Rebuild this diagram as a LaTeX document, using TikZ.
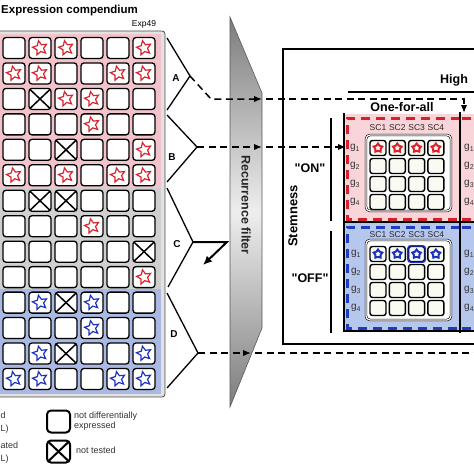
\documentclass[tikz,border=0pt]{standalone}
\usepackage{fontspec}
\setmainfont{Liberation Sans}
\newfontfamily\qfont{Liberation Sans}
\usetikzlibrary{arrows.meta,shapes.geometric,calc}
\definecolor{pinkbg}{HTML}{F2C3CA}
\definecolor{graybg}{HTML}{CFCFCF}
\definecolor{bluebg}{HTML}{A9B9E2}
\definecolor{framegray}{HTML}{E2E2E2}
\definecolor{starred}{HTML}{D9232E}
\definecolor{starblue}{HTML}{1C33BF}
\definecolor{pinkR}{HTML}{F9D4D9}
\definecolor{blueR}{HTML}{B6C7EE}
\definecolor{dashred}{HTML}{D6202E}
\definecolor{dashblue}{HTML}{1D3DBE}
\definecolor{fdark}{HTML}{7C7C7C}
\definecolor{flight}{HTML}{EEEEEE}
\definecolor{cellfill}{HTML}{FAFAF3}
\begin{document}
\begin{tikzpicture}[x=1pt,y=-1pt,
  every node/.style={inner sep=0pt},
  bigbold/.style={font=\fontsize{12.5}{14}\selectfont\bfseries},
  lbl/.style={font=\fontsize{10}{11}\selectfont\bfseries},
  cell/.style={draw=black,line width=1.3pt,fill=white,rounded corners=3pt,minimum width=22pt,minimum height=21pt},
  rstar/.style={star,star points=5,star point ratio=2.1,draw=starred,line width=1.2pt,minimum size=15pt,shape border rotate=12},
  bstar/.style={rstar,draw=starblue},
  xmark/.style={line width=1.5pt},
  bracket/.style={line width=1.3pt},
  dashline/.style={line width=1.5pt,dash pattern=on 7pt off 4.5pt},
  dashconn/.style={dashline,-{Latex[length=8pt,width=6.5pt]}},
  scell/.style={draw=black,line width=1.4pt,fill=cellfill,rounded corners=2.5pt,minimum width=16pt,minimum height=15pt},
  gicon/.style={star,star points=5,star point ratio=1.6,draw=starred,line width=2pt,minimum size=9pt},
  sclbl/.style={font=\fontsize{8.5}{9}\selectfont,text=black!85},
  glbl/.style={font=\fontsize{10}{11}\selectfont,text=black!80},
  reddash/.style={draw=dashred,line width=3pt,dash pattern=on 9pt off 6pt},
  bluedash/.style={draw=dashblue,line width=3pt,dash pattern=on 9pt off 6pt},
  legtxt/.style={font=\fontsize{9}{10.5}\selectfont,text=black!80,align=left},
  lcell/.style={draw=black,line width=2pt,fill=white,rounded corners=4pt,minimum width=23pt,minimum height=22pt}
]
\useasboundingbox (0,0) rectangle (474,474);

% ---------- title ----------
\node[font=\fontsize{11.5}{13}\selectfont\bfseries,anchor=base west] (title) at (1,13) {Expression compendium};
\node[font=\fontsize{8.5}{9}\selectfont] (exp) at (144,24) {Exp49};

% ---------- plate ----------
\draw[fill=framegray,draw=black!70,line width=0.8pt,rounded corners=3pt] (-8,31) rectangle (165,397);
\fill[pinkbg] (-8,34) rectangle (161,188);
\fill[graybg] (-8,188) rectangle (161,289);
\fill[bluebg] (-8,289) rectangle (161,394);

\foreach \j in {1,...,14}{
  \foreach \i in {1,...,6}{
    \node[cell] (c-\i-\j) at ({14+26*(\i-1)},{48+25.46*(\j-1)}) {};
  }
}
\foreach \i/\j in {2/1,3/1,6/1,1/2,2/2,5/2,6/2,3/3,4/3,4/4,6/5,1/6,3/6,5/6,6/6,4/8,6/10}
  \node[rstar] (rs-\i-\j) at (c-\i-\j) {};
\foreach \i/\j in {2/11,4/11,4/12,2/13,6/13,1/14,2/14,5/14,6/14}
  \node[bstar] (bs-\i-\j) at (c-\i-\j) {};
\foreach \i/\j in {2/3,3/5,2/7,3/7,6/9,3/11,3/13}{
  \draw[xmark] ($(c-\i-\j.north west)+(1.5,1.5)$) -- ($(c-\i-\j.south east)+(-1.5,-1.5)$);
  \draw[xmark] ($(c-\i-\j.north east)+(-1.5,1.5)$) -- ($(c-\i-\j.south west)+(1.5,-1.5)$);
}

% ---------- brackets ----------
\coordinate (aA) at (190,76);
\coordinate (aB) at (197,147);
\coordinate (aC) at (193,242);
\coordinate (aD) at (198,353);
\draw[bracket] (167,38) -- (aA) -- (167,110);
\draw[bracket] (167,115) -- (aB) -- (167,182);
\draw[bracket] (167,188) -- (aC) -- (168,287);
\draw[bracket] (167,293) -- (aD) -- (167,388);
\node[lbl] (lA) at (176,78) {A};
\node[lbl] (lB) at (172,157) {B};
\node[lbl] (lC) at (177,244) {C};
\node[lbl] (lD) at (174,334) {D};

% ---------- filter ----------
\coordinate (f1) at (230,17);
\coordinate (f2) at (262,93);
\coordinate (f3) at (262,328);
\coordinate (f4) at (230,407);
\path[draw=black!65,line width=0.6pt,top color=fdark,bottom color=fdark,middle color=flight]
  (f1) -- (f2) -- (f3) -- (f4) -- cycle;
\node[rotate=-90,font=\fontsize{12.5}{13}\selectfont\bfseries,text=black!85] (rf) at (246,205) {Recurrence filter};
\coordinate (fa) at (262,99);
\coordinate (fb) at (262,147);
\coordinate (fd) at (251,353);

% connectors to filter
\draw[dashconn] (aA) -- (211,99) -- (fa);
\draw[dashconn] (aB) -- (fb);
\draw[dashconn] (aD) -- (fd);
\draw[line width=2pt,-{Latex[length=9pt,width=8pt]}] (aC) -- (227,242) -- (203,265);

% ---------- right panel ----------
\draw[line width=1.5pt] (480,49) -- (283,49) -- (283,344) -- (480,344);
\node[bigbold,anchor=base west] (high) at (440,83) {High};
\draw[line width=1.2pt] (348,92) -- (480,92);
\node[bigbold] (ofa) at (402,107) {One-for-all};

\fill[pinkR] (345,114) rectangle (480,221);
\fill[blueR] (345,223) rectangle (480,330);
\draw[reddash] (460,118) -- (347,118) -- (347,219) -- (460,219);
\draw[reddash] (462,118) -- (480,118);
\draw[reddash] (462,219) -- (480,219);
\draw[bluedash] (460,227) -- (347,227) -- (347,328) -- (460,328);
\draw[bluedash] (462,227) -- (480,227);
\draw[bluedash] (462,328) -- (480,328);
\draw[line width=1.2pt] (344,113) -- (344,331) -- (480,331);
\draw[line width=1.2pt] (344,222) -- (480,222);
\draw[line width=1.2pt] (460,112) -- (460,333);

\coordinate (tA) at (464,113);
\coordinate (tB) at (346,147);
\draw[dashconn] (266,99) -- (464,99) -- (tA);
\draw[dashconn] (266,147) -- (tB);
\draw[dashline] (255,353) -- (480,353);

% grids
\draw[line width=0.6pt,double=white,double distance=1.2pt,rounded corners=4pt,fill=white] (366,135) rectangle (451,211);
\draw[line width=0.6pt,double=white,double distance=1.2pt,rounded corners=4pt,fill=white] (366,240) rectangle (451,320);
\foreach \c in {1,...,4}{
  \node[sclbl] (scon-\c) at ({378+19.3*(\c-1)},128) {SC\c};
  \node[sclbl] (scoff-\c) at ({378+19.3*(\c-1)},235) {SC\c};
  \foreach \r in {1,...,4}{
    \node[scell] (on-\c-\r) at ({378+19.3*(\c-1)},{148+18*(\r-1)}) {};
    \node[scell] (off-\c-\r) at ({378+19.3*(\c-1)},{254+18*(\r-1)}) {};
  }
  \node[gicon] (gon-\c) at (on-\c-1) {};
  \node[gicon,draw=starblue] (goff-\c) at (off-\c-1) {};
}
\draw[draw=starblue,line width=1.4pt,rounded corners=2.5pt] (off-3-1.north west) rectangle (off-3-1.south east);
\foreach \r in {1,...,4}{
  \node[glbl] (gl-on-\r) at (355,{148+18*(\r-1)}) {g\textsubscript{\r}};
  \node[glbl] (gl-off-\r) at (356,{254+18*(\r-1)}) {g\textsubscript{\r}};
  \node[glbl,anchor=west] (gr-on-\r) at (464,{148+18*(\r-1)}) {g\textsubscript{\r}};
  \node[glbl,anchor=west] (gr-off-\r) at (464,{254+18*(\r-1)}) {g\textsubscript{\r}};
}

\node[rotate=90,font=\fontsize{13}{14}\selectfont\bfseries] (stem) at (293,216) {Stemness};
\draw[line width=1.2pt] (331,118) -- (331,221);
\draw[line width=1.2pt] (331,231) -- (331,333);
\node[font=\qfont\fontsize{12.5}{14}\selectfont\bfseries] (on) at (310,168) {"ON"};
\node[font=\qfont\fontsize{12.5}{14}\selectfont\bfseries] (off) at (310,278) {"OFF"};

% ---------- legend ----------
\node[lcell] (l1) at (58.5,421.5) {};
\node[lcell] (l2) at (58.5,451.5) {};
\draw[line width=2pt] ($(l2.north west)+(2,2)$) -- ($(l2.south east)+(-2,-2)$);
\draw[line width=2pt] ($(l2.north east)+(-2,2)$) -- ($(l2.south west)+(2,-2)$);
\node[legtxt,anchor=west] (t1) at (74,421) {not differentially\\expressed};
\node[legtxt,anchor=west] (t2) at (76,450) {not tested};
\node[legtxt,anchor=base west] (f1t) at (0.5,418) {d};
\node[legtxt,anchor=base west] (f2t) at (0.5,431) {L)};
\node[legtxt,anchor=base west] (f3t) at (0.5,448) {ated};
\node[legtxt,anchor=base west] (f4t) at (0.5,461) {L)};
\end{tikzpicture}
\end{document}
